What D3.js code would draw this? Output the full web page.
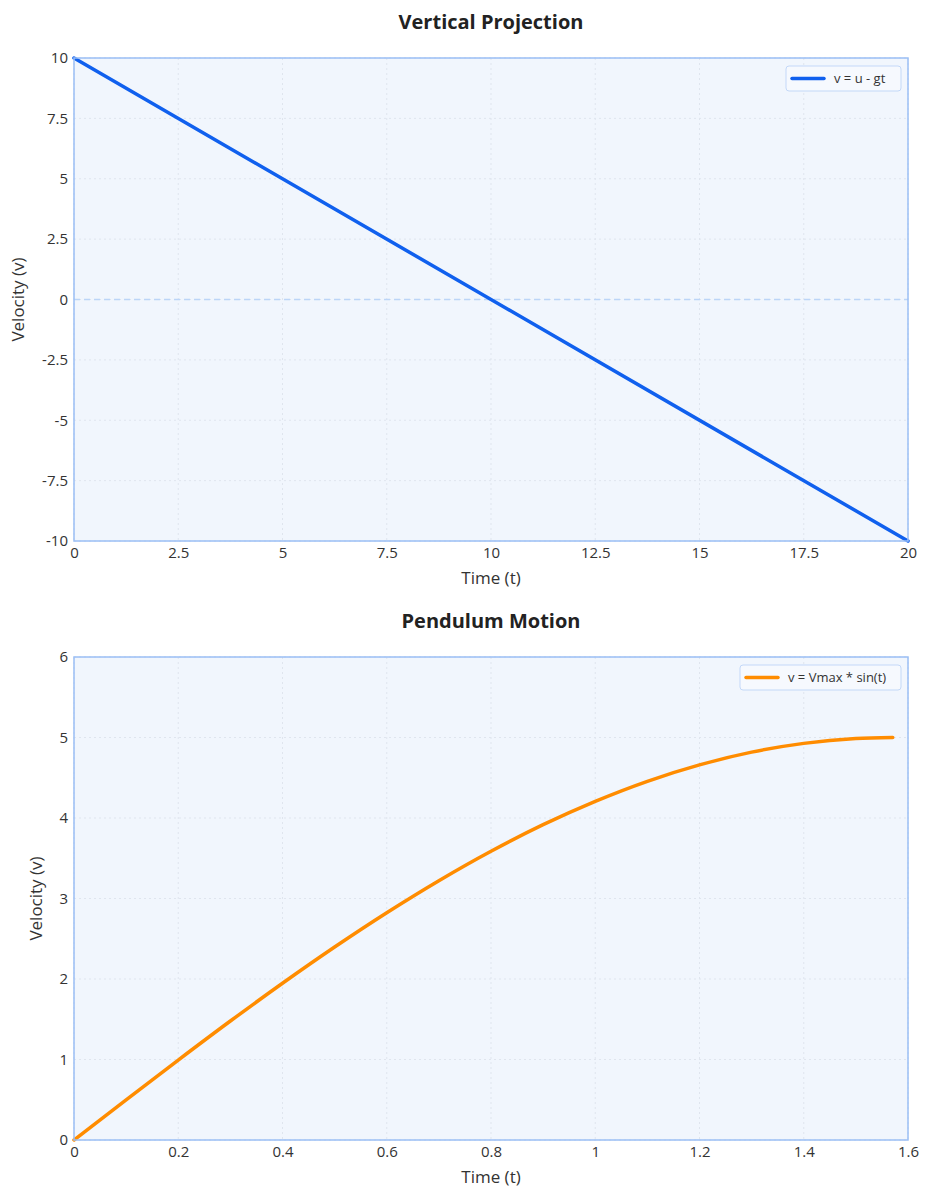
<!DOCTYPE html>
<html>
<head>
<meta charset="utf-8">
<script src="https://cdn.jsdelivr.net/npm/d3@7"></script>
<style>
  body { margin: 0; background: #fff; font-family: "Open Sans", sans-serif; }
</style>
</head>
<body>
<script>
// vertical projection
var projT = [0, 20],
    projV = [10, -10];
var projXTicks = [0, 2.5, 5, 7.5, 10, 12.5, 15, 17.5, 20],
    projYTicks = [-10, -7.5, -5, -2.5, 0, 2.5, 5, 7.5, 10];

// pendulum
var pendT = [0, 0.1, 0.2, 0.3, 0.4, 0.5, 0.6, 0.7, 0.8, 0.9, 1.0, 1.1, 1.2, 1.3, 1.4, 1.5, 1.5708],
    pendV = [0, 0.499, 0.993, 1.478, 1.947, 2.397, 2.823, 3.221, 3.587, 3.917, 4.207, 4.456, 4.660, 4.818, 4.927, 4.987, 5.0];
var pendXTicks = [0, 0.2, 0.4, 0.6, 0.8, 1, 1.2, 1.4, 1.6],
    pendYTicks = [0, 1, 2, 3, 4, 5, 6];

var width = 932, height = 1200;
var fmt = d => String(d);

var svg = d3.select("body").append("svg")
    .attr("width", width)
    .attr("height", height)
    .style("font-family", "'Open Sans', sans-serif");

function panel(opts) {
    var left = 74, right = 908, top = opts.top, bottom = opts.top + 483;

    var x = d3.scaleLinear().domain(opts.xDomain).range([left, right]);
    var y = d3.scaleLinear().domain(opts.yDomain).range([bottom, top]);

    var g = svg.append("g");

    g.append("rect")
        .attr("x", left).attr("y", top)
        .attr("width", right - left).attr("height", bottom - top)
        .attr("fill", "#f1f6fd");

    // grid
    g.append("g").selectAll("line")
        .data(opts.xTicks).enter().append("line")
        .attr("x1", d => x(d)).attr("x2", d => x(d))
        .attr("y1", top).attr("y2", bottom)
        .attr("stroke", "#dfe5ee").attr("stroke-dasharray", "2,3");
    g.append("g").selectAll("line")
        .data(opts.yTicks).enter().append("line")
        .attr("y1", d => y(d)).attr("y2", d => y(d))
        .attr("x1", left).attr("x2", right)
        .attr("stroke", "#dfe5ee").attr("stroke-dasharray", "2,3");

    if (opts.zeroLine) {
        g.append("line")
            .attr("x1", left).attr("x2", right)
            .attr("y1", y(0)).attr("y2", y(0))
            .attr("stroke", "#bcd5f8").attr("stroke-width", 1.5)
            .attr("stroke-dasharray", "6,4");
    }

    var xAxis = g.append("g")
        .attr("transform", "translate(0," + bottom + ")")
        .call(d3.axisBottom(x).tickValues(opts.xTicks).tickSize(0).tickPadding(6).tickFormat(fmt));
    xAxis.select(".domain").remove();

    var yAxis = g.append("g")
        .attr("transform", "translate(" + left + ",0)")
        .call(d3.axisLeft(y).tickValues(opts.yTicks).tickSize(0).tickPadding(6).tickFormat(fmt));
    yAxis.select(".domain").remove();
    g.selectAll(".tick text")
        .style("font-family", "'Open Sans', sans-serif")
        .attr("font-size", 15).attr("fill", "#333");

    var line = d3.line()
        .x(d => x(d[0]))
        .y(d => y(d[1]))
        .curve(d3.curveMonotoneX);

    g.append("path")
        .datum(opts.t.map((t, i) => [t, opts.v[i]]))
        .attr("d", line)
        .attr("fill", "none")
        .attr("stroke", opts.color)
        .attr("stroke-width", 3.5)
        .attr("stroke-linecap", "round");

    g.append("rect")
        .attr("x", left).attr("y", top)
        .attr("width", right - left).attr("height", bottom - top)
        .attr("fill", "none")
        .attr("stroke", "#9bbff5").attr("stroke-width", 1.5);

    // title + labels
    g.append("text")
        .attr("x", (left + right) / 2).attr("y", top - 29)
        .attr("text-anchor", "middle")
        .attr("font-size", 20).attr("font-weight", "bold")
        .attr("fill", "#222")
        .text(opts.title);

    g.append("text")
        .attr("x", (left + right) / 2).attr("y", bottom + 43)
        .attr("text-anchor", "middle")
        .attr("font-size", 17).attr("fill", "#333")
        .text("Time (t)");

    g.append("text")
        .attr("transform", "translate(" + opts.yLabelX + "," + (top + bottom) / 2 + ") rotate(-90)")
        .attr("text-anchor", "middle")
        .attr("font-size", 17).attr("fill", "#333")
        .text("Velocity (v)");

    // legend
    var lw = opts.legendW, lx = right - 7 - lw, ly = top + 8;
    g.append("rect")
        .attr("x", lx).attr("y", ly).attr("width", lw).attr("height", 25)
        .attr("rx", 3)
        .attr("fill", "#f6f9fe").attr("stroke", "#c3d8f8");
    g.append("line")
        .attr("x1", lx + 6).attr("x2", lx + 38)
        .attr("y1", ly + 12.5).attr("y2", ly + 12.5)
        .attr("stroke", opts.color).attr("stroke-width", 3.5).attr("stroke-linecap", "round");
    g.append("text")
        .attr("x", lx + 48).attr("y", ly + 17)
        .attr("font-size", 13).attr("fill", "#333")
        .text(opts.legend);
}

panel({
    top: 58, xDomain: [0, 20], yDomain: [-10, 10],
    xTicks: projXTicks, yTicks: projYTicks,
    t: projT, v: projV, color: "#1060ee",
    title: "Vertical Projection", legend: "v = u - gt", legendW: 115,
    zeroLine: true, yLabelX: 24
});

panel({
    top: 657, xDomain: [0, 1.6], yDomain: [0, 6],
    xTicks: pendXTicks, yTicks: pendYTicks,
    t: pendT, v: pendV, color: "#ff8c00",
    title: "Pendulum Motion", legend: "v = Vmax * sin(t)", legendW: 161,
    zeroLine: false, yLabelX: 42
});
</script>
</body>
</html>
